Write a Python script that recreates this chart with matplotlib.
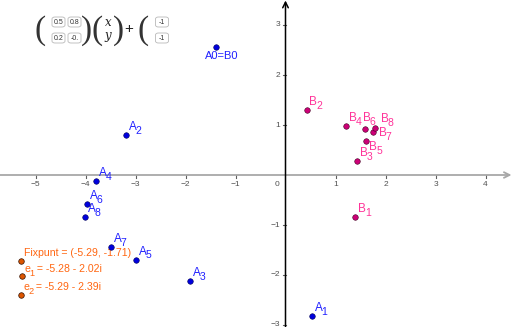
import matplotlib.pyplot as plt
from matplotlib.patches import FancyBboxPatch

plt.rcParams['font.family'] = ['Liberation Sans', 'DejaVu Sans']

# iterated points A_n (blue) and B_n (magenta)
a_names = ["A0=B0", "A_1", "A_2", "A_3", "A_4", "A_5", "A_6", "A_7", "A_8"]
a_x = [-1.39, 0.52, -3.19, -1.91, -3.80, -3.00, -3.98, -3.50, -4.01]
a_y = [2.56, -2.82, 0.80, -2.12, -0.11, -1.69, -0.58, -1.44, -0.83]

b_names = ["B_1", "B_2", "B_3", "B_4", "B_5", "B_6", "B_7", "B_8"]
b_x = [1.39, 0.42, 1.43, 1.21, 1.60, 1.59, 1.74, 1.78]
b_y = [-0.83, 1.31, 0.28, 0.99, 0.69, 0.93, 0.87, 0.95]

# fixed point and eigenvalue markers
fix_x = [-5.29, -5.28, -5.29]
fix_y = [-1.71, -2.02, -2.39]
fix_text = [("Fixpunt = (-5.29, -1.71)", None, None),
            ("e", "1", " = -5.28 - 2.02i"),
            ("e", "2", " = -5.29 - 2.39i")]

x_ticks = [-5, -4, -3, -2, -1, 1, 2, 3, 4]
y_ticks = [-3, -2, -1, 1, 2, 3]

matrix = [["0.5", "0.8"], ["0.2", "-0."]]
shift = ["-1", "-1"]

W, H = 512, 327
fig = plt.figure(figsize=(W / 100, H / 100), dpi=100)
ax = fig.add_axes([0, 0, 1, 1])
ax.set_xlim(-5.71, 4.53)
ax.set_ylim(-3.04, 3.5)
ax.axis('off')
renderer = fig.canvas.get_renderer()

# axes with arrows
ax.annotate('', xy=(4.52, 0), xytext=(-5.71, 0),
            arrowprops=dict(arrowstyle='->', color='#a8a8a8', lw=1.3,
                            shrinkA=0, shrinkB=0))
ax.annotate('', xy=(0, 3.49), xytext=(0, -3.04),
            arrowprops=dict(arrowstyle='->', color='black', lw=1.1,
                            shrinkA=0, shrinkB=0))

tick_style = dict(fontsize=6, color='#505050', textcoords='offset pixels')
for t in x_ticks:
    ax.plot([t, t], [0, -0.05], color='#606060', lw=0.8)
    ax.annotate(f"\u2212{-t}" if t < 0 else str(t), (t, 0), xytext=(0, -6),
                ha='center', va='top', **tick_style)
ax.annotate("0", (0, 0), xytext=(-6, -6), ha='right', va='top', **tick_style)
for t in y_ticks:
    ax.plot([-0.05, 0], [t, t], color='#606060', lw=0.8)
    ax.annotate(f"\u2212{-t}" if t < 0 else str(t), (0, t), xytext=(-5, 0),
                ha='right', va='center', **tick_style)


def point_label(x, y, base, sub, color, dx=3, dy=3, rest=None, size=8.5):
    # letter with a large subscript, drawn as separate texts
    t = ax.annotate(base, (x, y), xytext=(dx, dy), textcoords='offset pixels',
                    ha='left', va='baseline', fontsize=size, color=color)
    if sub is None:
        return
    w = t.get_window_extent(renderer).width - 1
    s = ax.annotate(sub, (x, y), xytext=(dx + w, dy - 4),
                    textcoords='offset pixels', ha='left', va='baseline',
                    fontsize=size - 1, color=color)
    if rest:
        w2 = s.get_window_extent(renderer).width - 1
        ax.annotate(rest, (x, y), xytext=(dx + w + w2, dy),
                    textcoords='offset pixels', ha='left', va='baseline',
                    fontsize=size, color=color)


# A points
ax.plot(a_x, a_y, 'o', ms=4, color='#0000dd', mec='#000055', mew=0.4, zorder=5)
for name, x, y in zip(a_names, a_x, a_y):
    if name == "A0=B0":
        ax.annotate(name, (x, y), xytext=(-11, -4), textcoords='offset pixels',
                    ha='left', va='top', fontsize=8, color='#2020ff')
    else:
        base, sub = name.split("_")
        point_label(x, y, base, sub, '#2020ff', dy=5)

# B points, the tight cluster gets individual offsets
b_offsets = {"B_5": (4, -9), "B_6": (-2, 8), "B_7": (6, -4), "B_8": (6, 6)}
ax.plot(b_x, b_y, 'o', ms=4, color='#cc0077', mec='#440022', mew=0.4, zorder=5)
for name, x, y in zip(b_names, b_x, b_y):
    base, sub = name.split("_")
    dx, dy = b_offsets.get(name, (3, 5))
    point_label(x, y, base, sub, '#ff3399', dx=dx, dy=dy)

# fixed point and eigenvalues
ax.plot(fix_x, fix_y, 'o', ms=4, color='#dd5500', mec='#331100', mew=0.5, zorder=5)
for (base, sub, rest), x, y in zip(fix_text, fix_x, fix_y):
    point_label(x, y, base, sub, '#ff6611', dy=4, rest=rest, size=7.6)


# matrix expression in the upper left
def px(x, y):
    return x / W, 1 - y / H


def small_box(cx, cy, txt):
    x0, y0 = px(cx - 6.5, cy + 5)
    w, h = 13 / W, 10 / H
    fig.patches.append(FancyBboxPatch((x0, y0), w, h,
                                      boxstyle='round,pad=0,rounding_size=0.006',
                                      transform=fig.transFigure, fc='white',
                                      ec='#b8b8b8', lw=0.6))
    fig.text(*px(cx, cy), txt, ha='center', va='center', fontsize=5,
             color='#333333')


paren = dict(fontsize=24, color='#333333', ha='center', va='center',
             family='Liberation Serif')
fig.text(*px(40, 31), "(", **paren)
for i, row in enumerate(matrix):
    for j, val in enumerate(row):
        small_box(58.5 + 16 * j, 22 + 16 * i, val)
fig.text(*px(87, 31), ")", **paren)
fig.text(*px(97, 31), "(", **paren)
fig.text(*px(108, 22), "x", ha='center', va='center', fontsize=8.5,
         color='#222222', family='DejaVu Serif', style='italic')
fig.text(*px(108, 35), "y", ha='center', va='center', fontsize=8.5,
         color='#222222', family='DejaVu Serif', style='italic')
fig.text(*px(118, 31), ")", **paren)
fig.text(*px(129, 29), "+", ha='center', va='center', fontsize=11,
         color='#222222')
fig.text(*px(143, 31), "(", **paren)
for i, val in enumerate(shift):
    small_box(162, 22 + 16 * i, val)

fig.savefig('out.png', dpi=100, facecolor='white')
